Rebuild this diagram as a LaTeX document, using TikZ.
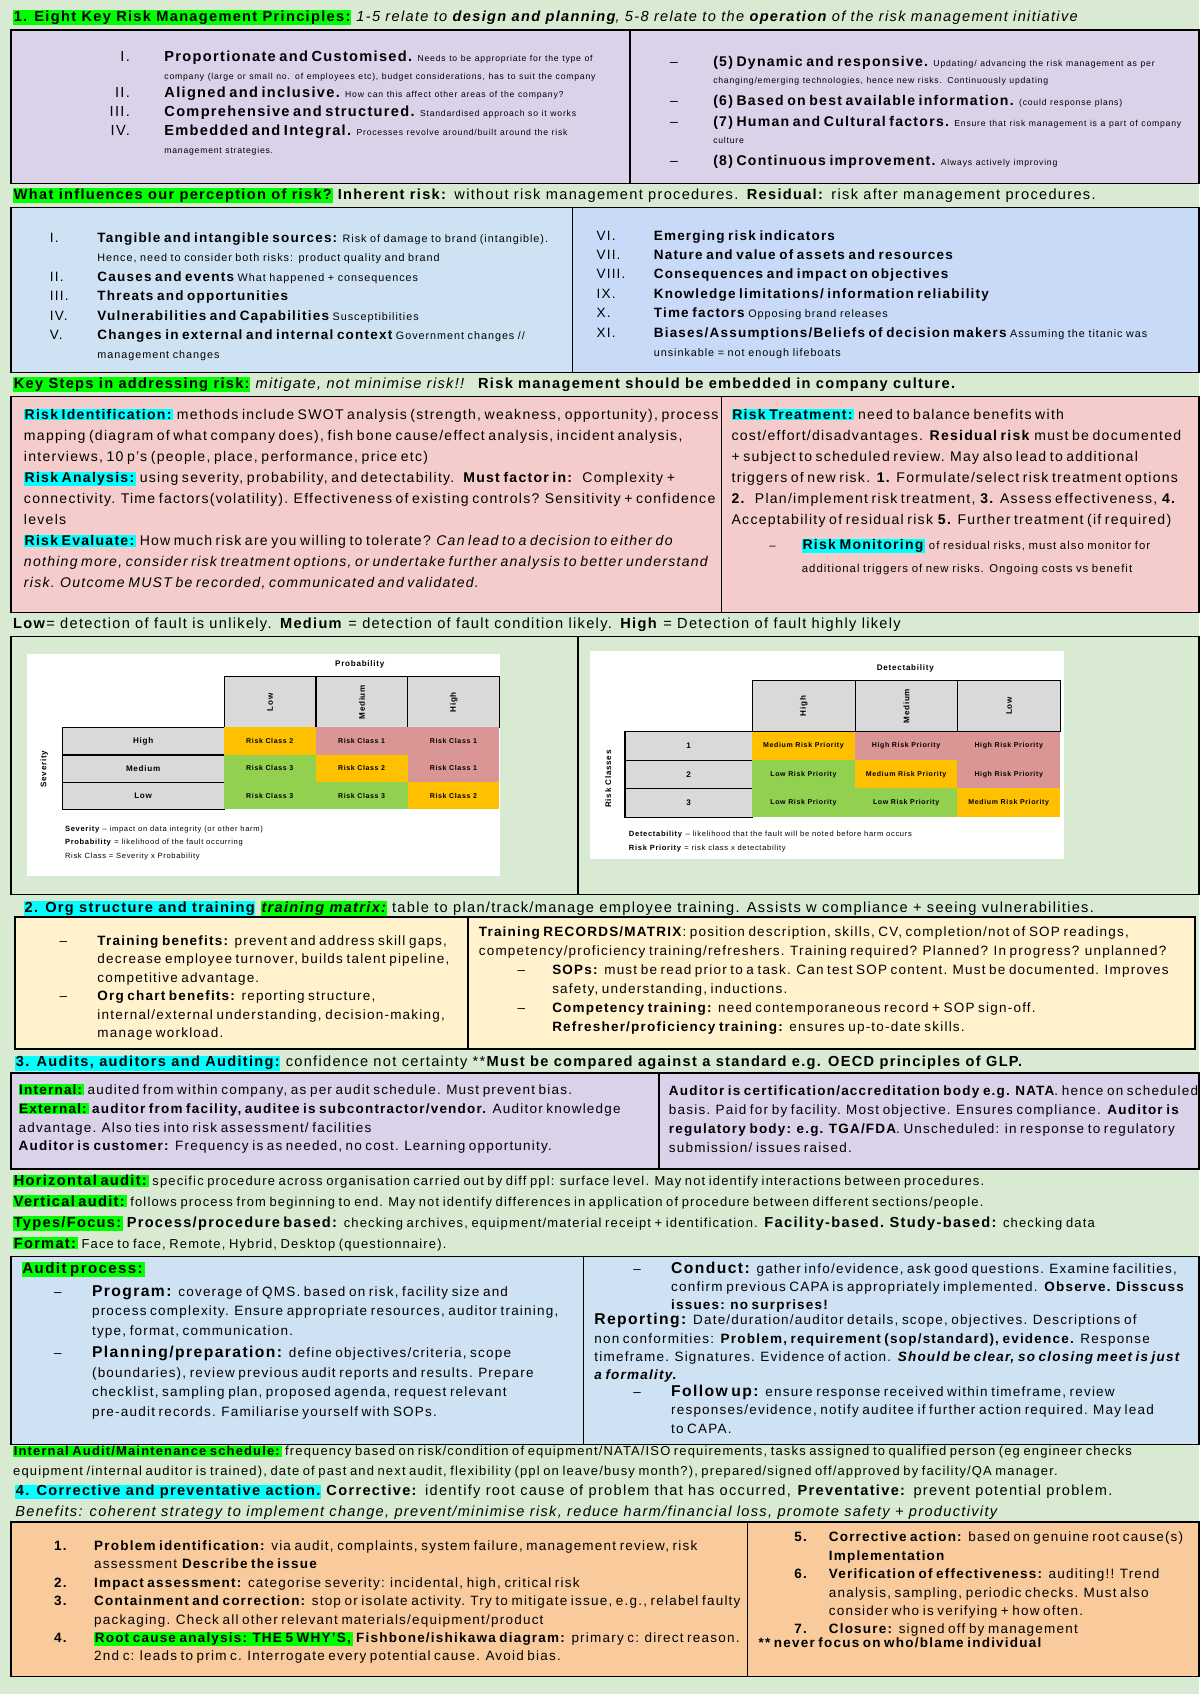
\documentclass[tikz,border=0pt]{standalone}
\usepackage{fontspec}
\setmainfont{Liberation Sans}[LetterSpace=9]
\hyphenpenalty=10000
\exhyphenpenalty=10000
\definecolor{bg}{HTML}{D9EAD3}
\definecolor{hgreen}{HTML}{00FF00}
\definecolor{hcyan}{HTML}{00FFFF}
\definecolor{purp}{HTML}{D9D2E9}
\definecolor{blueL}{HTML}{CFE2F3}
\definecolor{blueR}{HTML}{C9DAF8}
\definecolor{pink}{HTML}{F4CCCC}
\definecolor{yel}{HTML}{FFF2CC}
\definecolor{ora}{HTML}{F9CB9C}
\definecolor{tgray}{HTML}{D9D9D9}
\definecolor{torange}{HTML}{FFC000}
\definecolor{tred}{HTML}{DA9694}
\definecolor{tgreen}{HTML}{92D050}
\newcommand\hg[1]{{\setlength{\fboxsep}{0.6pt}\colorbox{hgreen}{#1}}}
\newcommand\hc[1]{{\setlength{\fboxsep}{0.6pt}\colorbox{hcyan}{#1}}}
\newcommand\li[3]{\par\noindent\hangindent=#1\hangafter=1\makebox[#1][l]{#2}#3}
\newcommand\sm[1]{{\fontsize{8}{16.5}\selectfont\mdseries #1}}
\newcommand\smb[1]{{\fontsize{10}{18}\selectfont\mdseries #1}}
\tikzset{
  panel/.style={draw=black, line width=1.4pt},
  txt/.style={anchor=north west, align=left, inner sep=0pt},
  hdr/.style={anchor=west, inner sep=0pt, font=\fontsize{13.5}{15}\selectfont},
  cell/.style={draw=black, line width=1pt, fill=tgray, font=\fontsize{7.5}{9}\selectfont\bfseries},
  ccell/.style={font=\fontsize{6.5}{8}\selectfont\bfseries},
}
\begin{document}
\begin{tikzpicture}[x=1pt,y=-1pt]
\fill[bg] (0,0) rectangle (1110,1568);
\useasboundingbox (0,0) rectangle (1110,1568);

% ---------- Header 1
\node[hdr] (h1) at (12,16) {\hg{\bfseries 1. Eight Key Risk Management Principles:} \textit{1-5 relate to \textbf{design and planning}, 5-8 relate to the \textbf{operation} of the risk management initiative}};
\draw[panel, fill=purp] (10,28) rectangle (583,170);
\draw[panel, fill=purp] (583,28) rectangle (1110,170);
\node[txt, text width=548pt] (a1) at (22,40) {\fontsize{13.5}{16.5}\selectfont\bfseries
\li{130pt}{\hfill\mdseries I.\hspace{32pt}}{Proportionate and Customised. \sm{Needs to be appropriate for the type of company (large or small no. of employees etc), budget considerations, has to suit the company}}\par\vspace{1pt}
\li{130pt}{\hfill\mdseries II.\hspace{32pt}}{Aligned and inclusive. \sm{How can this affect other areas of the company?}}\par\vspace{1pt}
\li{130pt}{\hfill\mdseries III.\hspace{32pt}}{Comprehensive and structured. \sm{Standardised approach so it works}}\par\vspace{1pt}
\li{130pt}{\hfill\mdseries IV.\hspace{32pt}}{Embedded and Integral. \sm{Processes revolve around/built around the risk management strategies.}}\par};
\node[txt, text width=480pt] (a2) at (620,45) {\fontsize{13}{16}\selectfont\bfseries
\li{40pt}{\mdseries --}{(5) Dynamic and responsive. \sm{Updating/ advancing the risk management as per changing/emerging technologies, hence new risks. Continuously updating}}\par\vspace{4pt}
\li{40pt}{\mdseries --}{(6) Based on best available information. \sm{(could response plans)}}\par\vspace{4pt}
\li{40pt}{\mdseries --}{(7) Human and Cultural factors. \sm{Ensure that risk management is a part of company culture}}\par\vspace{4pt}
\li{40pt}{\mdseries --}{(8) Continuous improvement. \sm{Always actively improving}}\par};

% ---------- Header 2
\node[hdr] (h2) at (12,181) {\hg{\bfseries What influences our perception of risk?} \textbf{Inherent risk:} without risk management procedures. \textbf{Residual:} risk after management procedures.};
\draw[panel, fill=blueL] (10,192) rectangle (530,345);
\draw[panel, fill=blueR] (530,192) rectangle (1110,345);
\node[txt, text width=490pt] (b1) at (30,206) {\fontsize{12.5}{18}\selectfont\bfseries
\li{60pt}{\hspace{16pt}\mdseries I.}{Tangible and intangible sources: \smb{Risk of damage to brand (intangible). Hence, need to consider both risks: product quality and brand}}
\li{60pt}{\hspace{16pt}\mdseries II.}{Causes and events \smb{What happened + consequences}}
\li{60pt}{\hspace{16pt}\mdseries III.}{Threats and opportunities}
\li{60pt}{\hspace{16pt}\mdseries IV.}{Vulnerabilities and Capabilities \smb{Susceptibilities}}
\li{60pt}{\hspace{16pt}\mdseries V.}{Changes in external and internal context \smb{Government changes // management changes}}\par};
\node[txt, text width=545pt] (b2) at (550,204) {\fontsize{12.5}{18}\selectfont\bfseries
\li{55pt}{\hspace{2pt}\mdseries VI.}{Emerging risk indicators}
\li{55pt}{\hspace{2pt}\mdseries VII.}{Nature and value of assets and resources}
\li{55pt}{\hspace{2pt}\mdseries VIII.}{Consequences and impact on objectives}
\li{55pt}{\hspace{2pt}\mdseries IX.}{Knowledge limitations/ information reliability}
\li{55pt}{\hspace{2pt}\mdseries X.}{Time factors \smb{Opposing brand releases}}
\li{55pt}{\hspace{2pt}\mdseries XI.}{Biases/Assumptions/Beliefs of decision makers \smb{Assuming the titanic was unsinkable = not enough lifeboats}}\par};

% ---------- Header 3
\node[hdr] (h3) at (12,356) {\hg{\bfseries Key Steps in addressing risk:} \textit{mitigate, not minimise risk!!} \ \textbf{Risk management should be embedded in company culture.}};
\draw[panel, fill=pink] (10,367) rectangle (668,567);
\draw[panel, fill=pink] (668,367) rectangle (1110,567);
\node[txt, text width=636pt] (c1) at (22,378) {\fontsize{13}{19.5}\selectfont
\hc{\textbf{Risk Identification:}} methods include SWOT analysis (strength, weakness, opportunity), process mapping (diagram of what company does), fish bone cause/effect analysis, incident analysis, interviews, 10 p's (people, place, performance, price etc)\par
\hc{\textbf{Risk Analysis:}} using severity, probability, and detectability. \ \textbf{Must factor in:} \ Complexity + connectivity. Time factors(volatility). Effectiveness of existing controls? Sensitivity + confidence levels\par
\hc{\textbf{Risk Evaluate:}} How much risk are you willing to tolerate? \textit{Can lead to a decision to either do nothing more, consider risk treatment options, or undertake further analysis to better understand risk. Outcome MUST be recorded, communicated and validated.}\par};
\node[txt, text width=425pt] (c2) at (677,378) {\fontsize{13}{19.5}\selectfont
\hc{\textbf{Risk Treatment:}} need to balance benefits with cost/effort/disadvantages. \textbf{Residual risk} must be documented + subject to scheduled review. May also lead to additional triggers of new risk. \textbf{1.} Formulate/select risk treatment options \textbf{2.} \ Plan/implement risk treatment, \textbf{3.} Assess effectiveness, \textbf{4.} Acceptability of residual risk \textbf{5.} Further treatment (if required)\par\vspace{2pt}
\fontsize{10.5}{21}\selectfont
\li{65pt}{\hspace{35pt}--}{\hc{\fontsize{13}{19.5}\selectfont\textbf{Risk Monitoring}} of residual risks, must also monitor for additional triggers of new risks. Ongoing costs vs benefit}\par};

\node[hdr] (h4) at (12,578) {\textbf{Low}= detection of fault is unlikely. \textbf{Medium} = detection of fault condition likely. \textbf{High} = Detection of fault highly likely};

% ---------- Tables panel
\draw[panel] (10,589) rectangle (535,828);
\draw[panel] (535,589) rectangle (1110,828);
\fill[white] (25,605) rectangle (463,811);
\fill[white] (546,603) rectangle (985,795);

% left table
\node[font=\fontsize{7.5}{9}\selectfont\bfseries] (pt) at (333,615) {Probability};
\foreach \t [count=\i] in {Low,Medium,High}{
  \pgfmathsetmacro\xa{207+85*(\i-1)}
  \node[cell, minimum width=85pt, minimum height=47pt, anchor=north west] (lh\i) at (\xa,626) {};
  \node[rotate=90, font=\fontsize{7.5}{9}\selectfont\bfseries] at (lh\i.center) {\t};
}
\foreach \t [count=\i] in {High,Medium,Low}{
  \pgfmathsetmacro\ya{673+25.3*(\i-1)}
  \node[cell, minimum width=150pt, minimum height=25.3pt, anchor=north west] (lr\i) at (57,\ya) {\t};
}
\node[rotate=90, font=\fontsize{7.5}{9}\selectfont\bfseries] (sev) at (41,712) {Severity};
\foreach \r/\c/\cc/\t in {1/1/torange/2,1/2/tred/1,1/3/tred/1,2/1/tgreen/3,2/2/torange/2,2/3/tred/1,3/1/tgreen/3,3/2/tgreen/3,3/3/torange/2}{
  \pgfmathsetmacro\xa{207+85*(\c-1)}
  \pgfmathsetmacro\ya{673+25.3*(\r-1)}
  \node[ccell, fill=\cc, minimum width=85pt, minimum height=25.3pt, anchor=north west, inner sep=0pt] at (\xa,\ya) {Risk Class \t};
}
\node[txt, font=\fontsize{7}{12.5}\selectfont] (leg1) at (60,764) {\textbf{Severity} -- impact on data integrity (or other harm)\\\textbf{Probability} = likelihood of the fault occurring\\Risk Class = Severity x Probability};

% right table
\node[font=\fontsize{7.5}{9}\selectfont\bfseries] (dt) at (838,619) {Detectability};
\foreach \t [count=\i] in {High,Medium,Low}{
  \pgfmathsetmacro\xa{696+95*(\i-1)}
  \node[cell, minimum width=95pt, minimum height=48pt, anchor=north west] (rh\i) at (\xa,629) {};
  \node[rotate=90, font=\fontsize{7.5}{9}\selectfont\bfseries] at (rh\i.center) {\t};
}
\foreach \t [count=\i] in {1,2,3}{
  \pgfmathsetmacro\ya{677+26.3*(\i-1)}
  \node[cell, minimum width=118pt, minimum height=26.3pt, anchor=north west] (rr\i) at (578,\ya) {\t};
}
\node[rotate=90, font=\fontsize{7.5}{9}\selectfont\bfseries] (rc) at (563,721) {Risk Classes};
\foreach \r/\c/\cc/\t in {1/1/torange/Medium,1/2/tred/High,1/3/tred/High,2/1/tgreen/Low,2/2/torange/Medium,2/3/tred/High,3/1/tgreen/Low,3/2/tgreen/Low,3/3/torange/Medium}{
  \pgfmathsetmacro\xa{696+95*(\c-1)}
  \pgfmathsetmacro\ya{677+26.3*(\r-1)}
  \node[ccell, fill=\cc, minimum width=95pt, minimum height=26.3pt, anchor=north west, inner sep=0pt] at (\xa,\ya) {\t\ Risk Priority};
}
\node[txt, font=\fontsize{7}{13}\selectfont] (leg2) at (582,769) {\textbf{Detectability} -- likelihood that the fault will be noted before harm occurs\\\textbf{Risk Priority} = risk class x detectability};

% ---------- Section 2
\node[hdr] (h5) at (22,841) {\hc{\bfseries 2. Org structure and training} \hg{\bfseries\itshape training matrix:} table to plan/track/manage employee training. Assists w compliance + seeing vulnerabilities.};
\draw[panel, fill=yel] (14,849) rectangle (433,971);
\draw[panel, fill=yel] (433,849) rectangle (1106,971);
\node[txt, text width=370pt] (e1) at (55,858) {\fontsize{12.5}{17}\selectfont
\li{35pt}{--}{\textbf{Training benefits:} prevent and address skill gaps, decrease employee turnover, builds talent pipeline, competitive advantage.}
\li{35pt}{--}{\textbf{Org chart benefits:} reporting structure, internal/external understanding, decision-making, manage workload.}\par};
\node[txt, text width=655pt] (e2) at (443,858) {\fontsize{12.5}{17.5}\selectfont
\textbf{Training RECORDS/MATRIX}: position description, skills, CV, completion/not of SOP readings, competency/proficiency training/refreshers. Training required? Planned? In progress? unplanned?
\li{68pt}{\hspace{36pt}--}{\textbf{SOPs:} must be read prior to a task. Can test SOP content. Must be documented. Improves safety, understanding, inductions.}
\li{68pt}{\hspace{36pt}--}{\textbf{Competency training:} need contemporaneous record + SOP sign-off. \textbf{Refresher/proficiency training:} ensures up-to-date skills.}\par};

% ---------- Section 3
\node[hdr] (h6) at (14,984) {\hc{\bfseries 3. Audits, auditors and Auditing:} confidence not certainty **\textbf{Must be compared against a standard e.g. OECD principles of GLP.}};
\draw[panel, fill=purp] (10,993) rectangle (610,1082);
\draw[panel, fill=purp] (610,993) rectangle (1110,1082);
\node[txt, text width=585pt] (f1) at (17,1003) {\fontsize{12.5}{17.5}\selectfont
\hg{\textbf{Internal:}} audited from within company, as per audit schedule. Must prevent bias.\par
\hg{\textbf{External:}} \textbf{auditor from facility, auditee is subcontractor/vendor.} Auditor knowledge advantage. Also ties into risk assessment/ facilities\par
\textbf{Auditor is customer:} Frequency is as needed, no cost. Learning opportunity.\par};
\node[txt, text width=482pt] (f2) at (619,1005) {\fontsize{12.5}{17.5}\selectfont
\textbf{Auditor is certification/accreditation body e.g. NATA}. hence on scheduled basis. Paid for by facility. Most objective. Ensures compliance. \textbf{Auditor is regulatory body: e.g. TGA/FDA}. Unscheduled: in response to regulatory submission/ issues raised.\par};

\node[txt, text width=1085pt] (g0) at (12,1087) {\fontsize{12}{19.2}\selectfont
\hg{\fontsize{13.5}{19}\selectfont\textbf{Horizontal audit:}} specific procedure across organisation carried out by diff ppl: surface level. May not identify interactions between procedures.\\
\hg{\fontsize{13.5}{19}\selectfont\textbf{Vertical audit:}} follows process from beginning to end. May not identify differences in application of procedure between different sections/people.\\
\hg{\fontsize{13.5}{19}\selectfont\textbf{Types/Focus:}} {\fontsize{13.5}{19}\selectfont\textbf{Process/procedure based:}} checking archives, equipment/material receipt + identification. {\fontsize{13.5}{19}\selectfont\textbf{Facility-based. Study-based:}} checking data\\
\hg{\fontsize{13.5}{19}\selectfont\textbf{Format:}} Face to face, Remote, Hybrid, Desktop (questionnaire).\par};

\draw[panel, fill=blueL] (10,1163) rectangle (540,1337);
\draw[panel, fill=blueL] (540,1163) rectangle (1110,1337);
\node[txt, text width=510pt] (g1) at (20,1168) {\fontsize{12.5}{18}\selectfont
\hg{\fontsize{14}{18}\selectfont\textbf{Audit process:}}\par\vspace{3pt}
\hspace*{30pt}\parbox[t]{455pt}{%
\li{35pt}{--}{{\fontsize{14.5}{18}\selectfont\textbf{Program:}} coverage of QMS. based on risk, facility size and process complexity. Ensure appropriate resources, auditor training, type, format, communication.}\par\vspace{3pt}
\li{35pt}{--}{{\fontsize{14.5}{18}\selectfont\textbf{Planning/preparation:}} define objectives/criteria, scope (boundaries), review previous audit reports and results. Prepare checklist, sampling plan, proposed agenda, request relevant pre-audit records. Familiarise yourself with SOPs.}\par}\par};
\node[txt, text width=545pt] (g2) at (550,1168) {\fontsize{12.5}{16.8}\selectfont
\hspace*{36pt}\parbox[t]{505pt}{\li{35pt}{--}{{\fontsize{14.5}{16.8}\selectfont\textbf{Conduct:}} gather info/evidence, ask good questions. Examine facilities, confirm previous CAPA is appropriately implemented. \textbf{Observe. Disscuss issues: no surprises!}}\par}\par
\parbox[t]{535pt}{{\fontsize{14.5}{16.8}\selectfont\textbf{Reporting:}} Date/duration/auditor details, scope, objectives. Descriptions of non conformities: \textbf{Problem, requirement (sop/standard), evidence.} Response timeframe. Signatures. Evidence of action. \textbf{\textit{Should be clear, so closing meet is just a formality.}}\par}\par\vspace{2pt}
\hspace*{36pt}\parbox[t]{505pt}{\li{35pt}{--}{{\fontsize{14.5}{16.8}\selectfont\textbf{Follow up:}} ensure response received within timeframe, review responses/evidence, notify auditee if further action required. May lead to CAPA.}\par}\par};

\node[txt, text width=1085pt] (i0) at (12,1338) {\fontsize{12}{18.5}\selectfont
\hg{\textbf{Internal Audit/Maintenance schedule:}} frequency based on risk/condition of equipment/NATA/ISO requirements, tasks assigned to qualified person (eg engineer checks equipment /internal auditor is trained), date of past and next audit, flexibility (ppl on leave/busy month?), prepared/signed off/approved by facility/QA manager.\par};
\node[hdr] (h7) at (14,1381) {\hc{\bfseries 4. Corrective and preventative action.} \textbf{Corrective:} identify root cause of problem that has occurred, \textbf{Preventative:} prevent potential problem.};
\node[hdr] (h8) at (14,1400) {\textit{Benefits: coherent strategy to implement change, prevent/minimise risk, reduce harm/financial loss, promote safety + productivity}};

\draw[panel, fill=ora] (10,1409) rectangle (692,1552);
\draw[panel, fill=ora] (692,1409) rectangle (1110,1552);
\node[txt, text width=630pt] (k1) at (50,1418) {\fontsize{12.5}{17}\selectfont
\li{37pt}{\textbf{1.}}{\textbf{Problem identification:} via audit, complaints, system failure, management review, risk assessment \textbf{Describe the issue}}
\li{37pt}{\textbf{2.}}{\textbf{Impact assessment:} categorise severity: incidental, high, critical risk}
\li{37pt}{\textbf{3.}}{\textbf{Containment and correction:} stop or isolate activity. Try to mitigate issue, e.g., relabel faulty packaging. Check all other relevant materials/equipment/product}
\li{37pt}{\textbf{4.}}{\hg{\textbf{Root cause analysis: THE 5 WHY'S,}} \textbf{Fishbone/ishikawa diagram:} primary c: direct reason. 2nd c: leads to prim c. Interrogate every potential cause. Avoid bias.}\par};
\node[txt, text width=405pt] (k2) at (702,1418) {\fontsize{12.5}{17}\selectfont
\hspace*{33pt}\parbox[t]{370pt}{%
\li{32pt}{\textbf{5.}}{\textbf{Corrective action:} based on genuine root cause(s) \textbf{Implementation}}
\li{32pt}{\textbf{6.}}{\textbf{Verification of effectiveness:} auditing!! Trend analysis, sampling, periodic checks. Must also consider who is verifying + how often.}
\li{32pt}{\textbf{7.}}{\textbf{Closure:} signed off by management}\par}\par
\textbf{** never focus on who/blame individual}\par};
\end{tikzpicture}
\end{document}
